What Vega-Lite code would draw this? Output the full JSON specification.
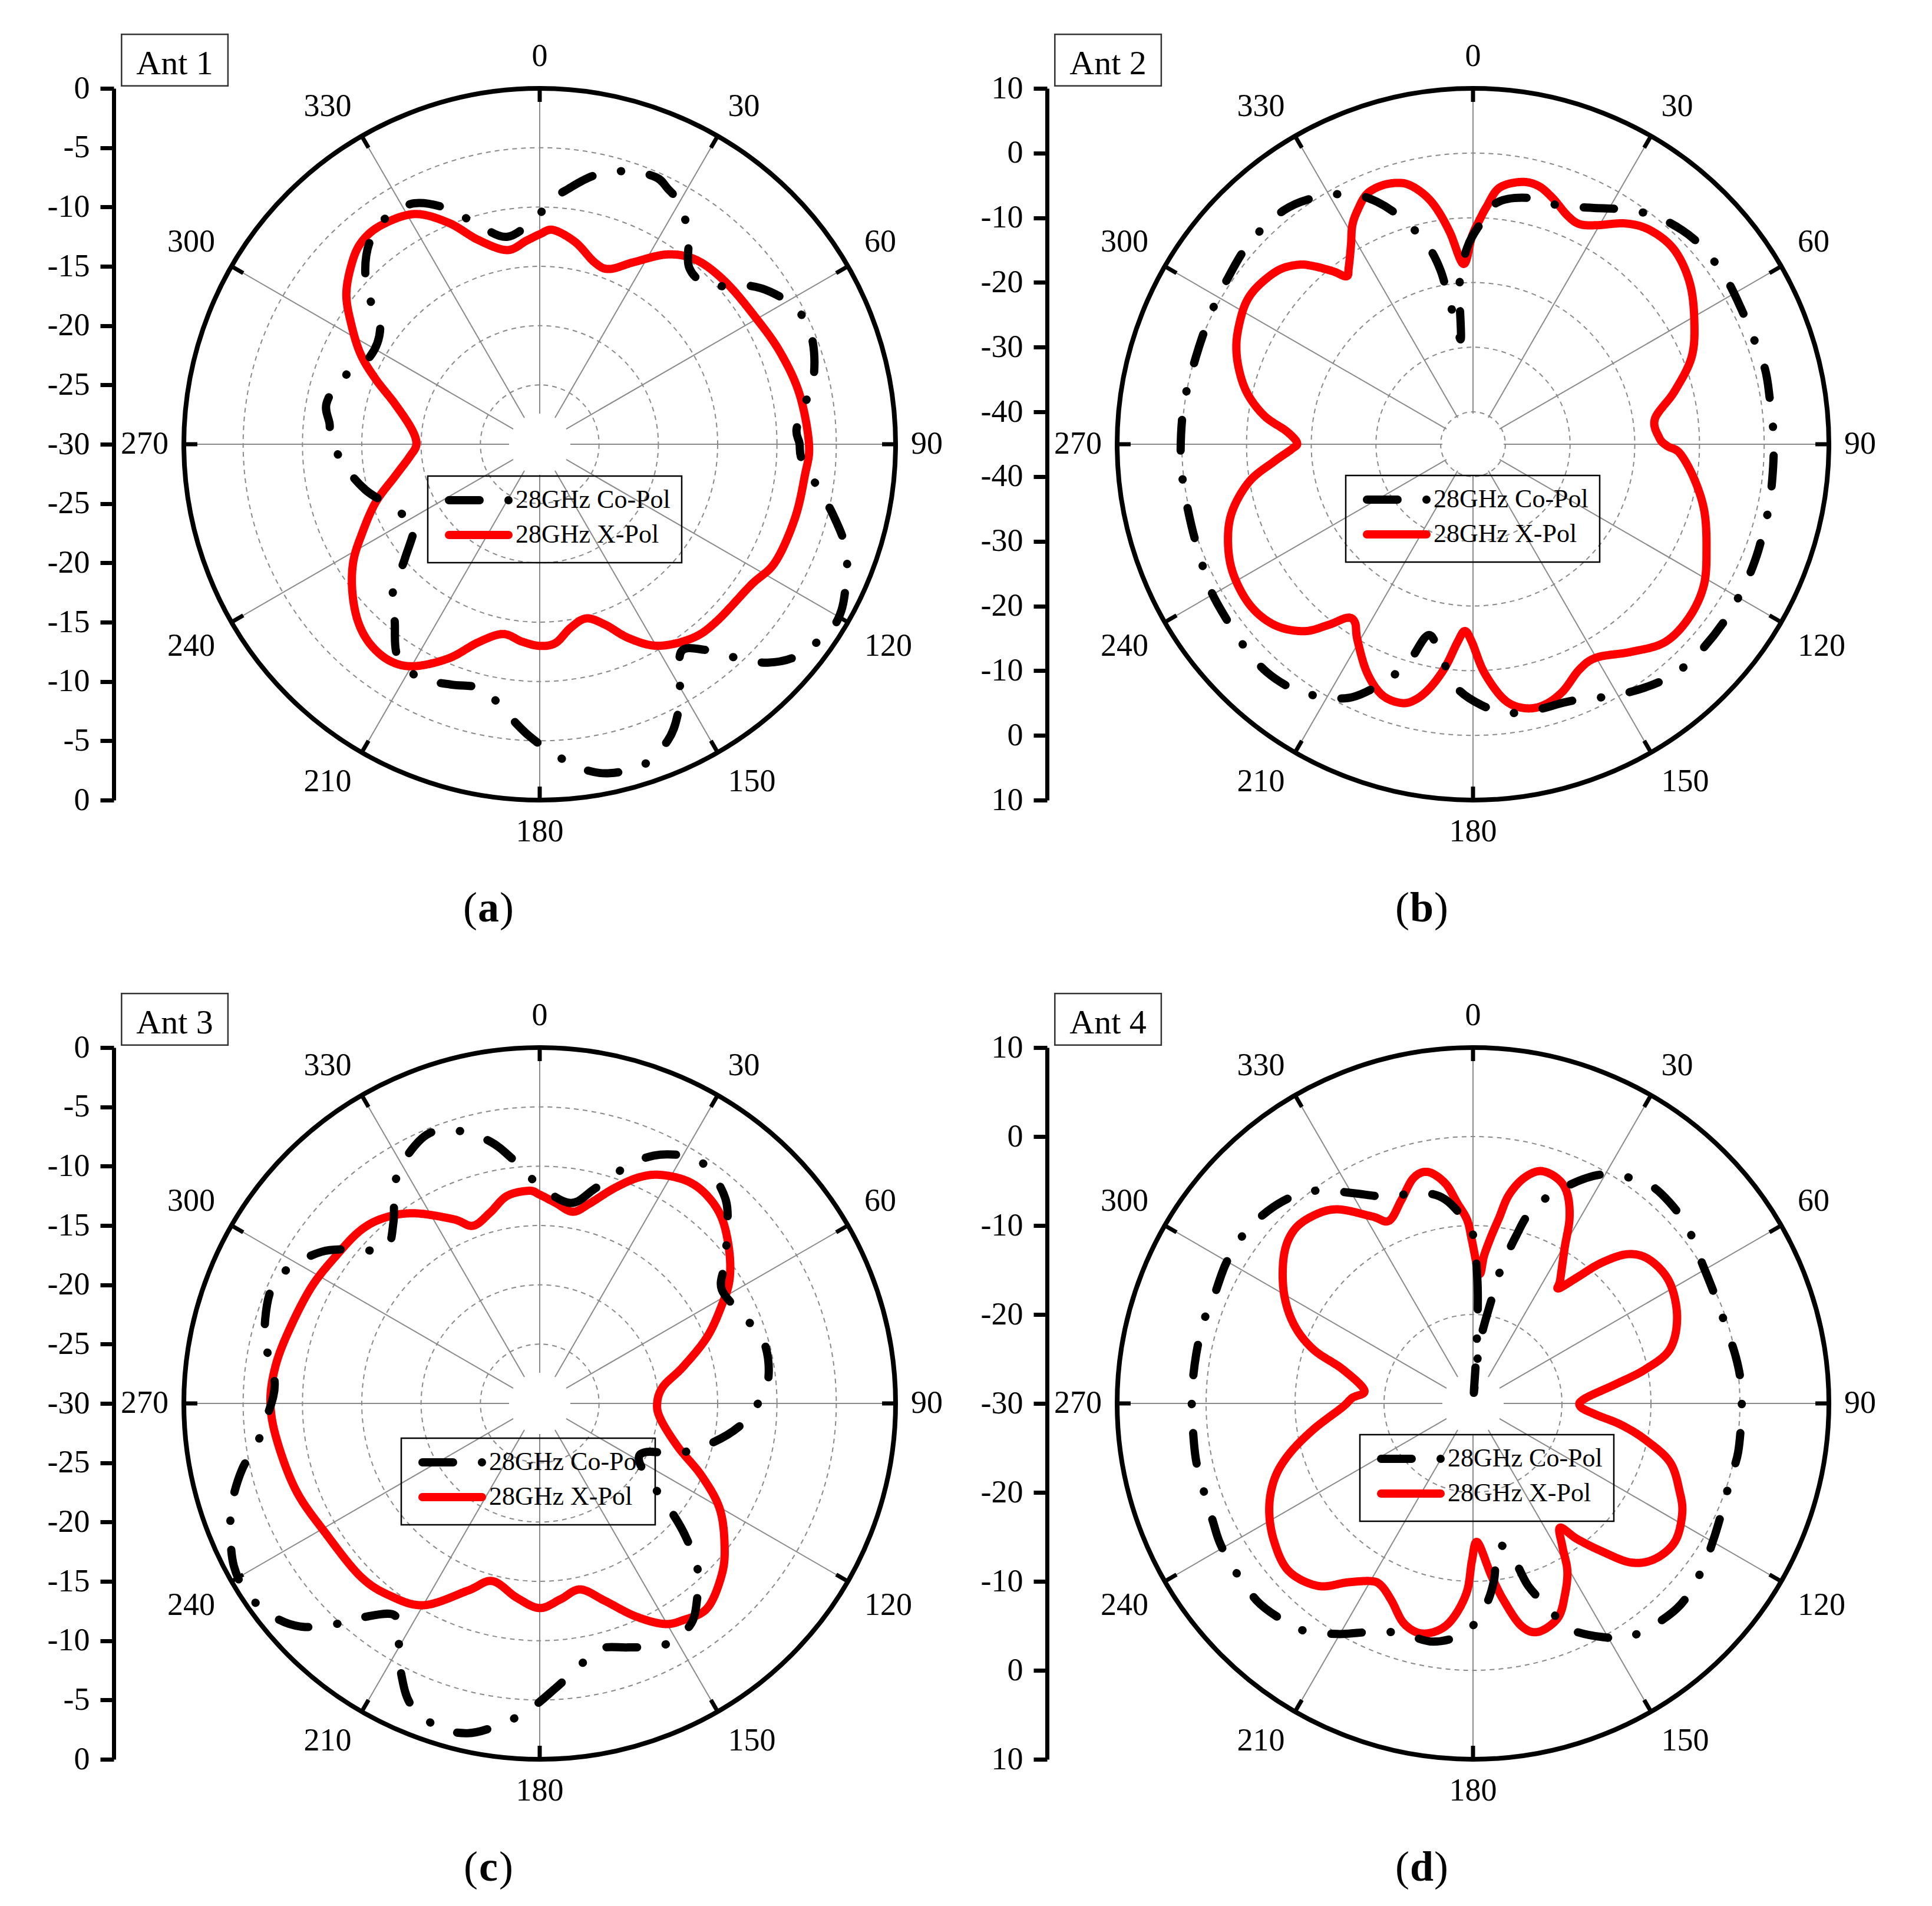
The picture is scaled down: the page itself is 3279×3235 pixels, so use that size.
{
  "$schema": "https://vega.github.io/schema/vega-lite/v6.json",
  "background": "white",
  "padding": {"left": 80, "top": 56, "right": 20, "bottom": 20},
  "config": {
    "view": {"stroke": null},
    "font": "Liberation Serif",
    "axisX": {"disable": true},
    "axisY": {"domainColor": "black", "domainWidth": 7, "tickColor": "black", "tickWidth": 7, "tickSize": 23, "labelFont": "Liberation Serif", "labelFontSize": 54, "labelColor": "black", "labelPadding": 18, "offset": 119, "grid": false, "labelOverlap": false, "labelFlush": false, "labelBound": false},
    "legend": {"symbolType": "M-3.367,0L3.367,0", "symbolSize": 900, "symbolStrokeWidth": 14, "labelFont": "Liberation Serif", "labelFontSize": 44, "labelColor": "black", "labelLimit": 800, "strokeColor": "black", "strokeWidth": 2.5, "padding": 19, "symbolOffset": 45.5, "rowPadding": 3, "labelOffset": 40.5},
    "text": {"font": "Liberation Serif", "fontSize": 54, "color": "black"}
  },
  "datasets": {
    "spokes": [{"a":0},{"a":30},{"a":60},{"a":90},{"a":120},{"a":150},{"a":180},{"a":210},{"a":240},{"a":270},{"a":300},{"a":330}],
    "rings": [
      {"p":"a","v":-25},{"p":"a","v":-20},{"p":"a","v":-15},{"p":"a","v":-10},{"p":"a","v":-5},
      {"p":"b","v":-40},{"p":"b","v":-30},{"p":"b","v":-20},{"p":"b","v":-10},{"p":"b","v":0},
      {"p":"c","v":-25},{"p":"c","v":-20},{"p":"c","v":-15},{"p":"c","v":-10},{"p":"c","v":-5},
      {"p":"d","v":-20},{"p":"d","v":-10},{"p":"d","v":0}
    ],
    "curves": [
      {"p":"a","s":"X","a":0,"v":-12.3},{"p":"a","s":"X","a":3.6,"v":-11.9},{"p":"a","s":"X","a":10,"v":-12.7},{"p":"a","s":"X","a":16.9,"v":-14.0},{"p":"a","s":"X","a":21.7,"v":-14.1},{"p":"a","s":"X","a":27.4,"v":-12.7},{"p":"a","s":"X","a":34,"v":-10.7},{"p":"a","s":"X","a":40.5,"v":-9.6},{"p":"a","s":"X","a":49,"v":-9.2},{"p":"a","s":"X","a":59.5,"v":-8.9},{"p":"a","s":"X","a":69,"v":-8.3},{"p":"a","s":"X","a":79,"v":-7.7},{"p":"a","s":"X","a":90,"v":-7.3},{"p":"a","s":"X","a":96.9,"v":-7.5},{"p":"a","s":"X","a":106.3,"v":-7.6},{"p":"a","s":"X","a":116.6,"v":-7.8},{"p":"a","s":"X","a":123.7,"v":-8.6},{"p":"a","s":"X","a":135,"v":-8.9},{"p":"a","s":"X","a":141.8,"v":-9.2},{"p":"a","s":"X","a":149.6,"v":-10.3},{"p":"a","s":"X","a":155.3,"v":-12.0},{"p":"a","s":"X","a":160,"v":-13.8},{"p":"a","s":"X","a":165,"v":-14.8},{"p":"a","s":"X","a":170.5,"v":-14.3},{"p":"a","s":"X","a":175.4,"v":-13.2},{"p":"a","s":"X","a":180,"v":-13.0},{"p":"a","s":"X","a":185.2,"v":-13.3},{"p":"a","s":"X","a":191,"v":-13.7},{"p":"a","s":"X","a":197.3,"v":-12.5},{"p":"a","s":"X","a":203,"v":-10.4},{"p":"a","s":"X","a":209.5,"v":-8.5},{"p":"a","s":"X","a":214.6,"v":-7.8},{"p":"a","s":"X","a":220.2,"v":-7.9},{"p":"a","s":"X","a":225.7,"v":-8.6},{"p":"a","s":"X","a":231.8,"v":-9.9},{"p":"a","s":"X","a":237.7,"v":-11.4},{"p":"a","s":"X","a":242.9,"v":-13.1},{"p":"a","s":"X","a":250.4,"v":-15.3},{"p":"a","s":"X","a":257.5,"v":-17.5},{"p":"a","s":"X","a":264.6,"v":-19.0},{"p":"a","s":"X","a":270,"v":-19.6},{"p":"a","s":"X","a":277,"v":-19.1},{"p":"a","s":"X","a":285.7,"v":-17.3},{"p":"a","s":"X","a":291.7,"v":-15.1},{"p":"a","s":"X","a":296.7,"v":-13.1},{"p":"a","s":"X","a":302.4,"v":-11.2},{"p":"a","s":"X","a":307.7,"v":-9.4},{"p":"a","s":"X","a":313.5,"v":-8.1},{"p":"a","s":"X","a":318.4,"v":-7.3},{"p":"a","s":"X","a":323.9,"v":-7.2},{"p":"a","s":"X","a":331.4,"v":-7.9},{"p":"a","s":"X","a":337.6,"v":-9.8},{"p":"a","s":"X","a":343.2,"v":-12.0},{"p":"a","s":"X","a":350.4,"v":-13.4},{"p":"a","s":"X","a":356.3,"v":-12.8},
      {"p":"a","s":"Co","a":2.6,"v":-9.4},{"p":"a","s":"Co","a":5.8,"v":-8.5},{"p":"a","s":"Co","a":11.4,"v":-6.9},{"p":"a","s":"Co","a":17.9,"v":-5.8},{"p":"a","s":"Co","a":23.5,"v":-5.45},{"p":"a","s":"Co","a":26.6,"v":-5.9},{"p":"a","s":"Co","a":29.9,"v":-6.5},{"p":"a","s":"Co","a":35.1,"v":-8.2},{"p":"a","s":"Co","a":40.3,"v":-10.5},{"p":"a","s":"Co","a":46.9,"v":-10.4},{"p":"a","s":"Co","a":52,"v":-8.2},{"p":"a","s":"Co","a":56.5,"v":-6.7},{"p":"a","s":"Co","a":62.4,"v":-5.5},{"p":"a","s":"Co","a":68.4,"v":-5.35},{"p":"a","s":"Co","a":75.4,"v":-6.1},{"p":"a","s":"Co","a":80.3,"v":-7.15},{"p":"a","s":"Co","a":86.5,"v":-8.3},{"p":"a","s":"Co","a":89.8,"v":-8.1},{"p":"a","s":"Co","a":93.4,"v":-7.85},{"p":"a","s":"Co","a":99.2,"v":-6.15},{"p":"a","s":"Co","a":103.7,"v":-4.5},{"p":"a","s":"Co","a":108.9,"v":-2.7},{"p":"a","s":"Co","a":114.2,"v":-1.7},{"p":"a","s":"Co","a":119,"v":-0.95},{"p":"a","s":"Co","a":122.9,"v":-0.96},{"p":"a","s":"Co","a":129.4,"v":-1.9},{"p":"a","s":"Co","a":133.8,"v":-3.4},{"p":"a","s":"Co","a":137.4,"v":-5.55},{"p":"a","s":"Co","a":141.3,"v":-7.8},{"p":"a","s":"Co","a":145.6,"v":-8.85},{"p":"a","s":"Co","a":149.3,"v":-6.8},{"p":"a","s":"Co","a":152.9,"v":-4.45},{"p":"a","s":"Co","a":156.6,"v":-2.8},{"p":"a","s":"Co","a":162,"v":-1.6},{"p":"a","s":"Co","a":168,"v":-1.65},{"p":"a","s":"Co","a":172.5,"v":-2.4},{"p":"a","s":"Co","a":177,"v":-3.75},{"p":"a","s":"Co","a":182.1,"v":-5.4},{"p":"a","s":"Co","a":186.9,"v":-7.1},{"p":"a","s":"Co","a":193.1,"v":-8.8},{"p":"a","s":"Co","a":200.3,"v":-8.4},{"p":"a","s":"Co","a":207.3,"v":-7.85},{"p":"a","s":"Co","a":213.9,"v":-8.5},{"p":"a","s":"Co","a":219.3,"v":-10.7},{"p":"a","s":"Co","a":224.3,"v":-12.2},{"p":"a","s":"Co","a":229.7,"v":-15.1},{"p":"a","s":"Co","a":236.9,"v":-17.4},{"p":"a","s":"Co","a":242,"v":-17.1},{"p":"a","s":"Co","a":247.6,"v":-16.4},{"p":"a","s":"Co","a":255.4,"v":-14.8},{"p":"a","s":"Co","a":264,"v":-13.4},{"p":"a","s":"Co","a":271.6,"v":-12.4},{"p":"a","s":"Co","a":275.6,"v":-12.2},{"p":"a","s":"Co","a":280.8,"v":-11.7},{"p":"a","s":"Co","a":288.2,"v":-12.4},{"p":"a","s":"Co","a":297.4,"v":-13.9},{"p":"a","s":"Co","a":306.4,"v":-13.3},{"p":"a","s":"Co","a":310.5,"v":-11.2},{"p":"a","s":"Co","a":315,"v":-9.2},{"p":"a","s":"Co","a":320.3,"v":-7.65},{"p":"a","s":"Co","a":326.2,"v":-6.9},{"p":"a","s":"Co","a":332.5,"v":-7.1},{"p":"a","s":"Co","a":338.4,"v":-8.6},{"p":"a","s":"Co","a":343.8,"v":-10.6},{"p":"a","s":"Co","a":351,"v":-12.3},{"p":"a","s":"Co","a":359,"v":-10.9},
      {"p":"b","s":"X","a":1.6,"v":-10.4},{"p":"b","s":"X","a":3.3,"v":-8.2},{"p":"b","s":"X","a":5.8,"v":-5.2},{"p":"b","s":"X","a":10.3,"v":-3.8},{"p":"b","s":"X","a":14.1,"v":-3.8},{"p":"b","s":"X","a":17.9,"v":-5.0},{"p":"b","s":"X","a":22.4,"v":-6.75},{"p":"b","s":"X","a":25.8,"v":-7.2},{"p":"b","s":"X","a":29.4,"v":-6.15},{"p":"b","s":"X","a":34.7,"v":-3.5},{"p":"b","s":"X","a":39.7,"v":-2.05},{"p":"b","s":"X","a":46,"v":-1.75},{"p":"b","s":"X","a":53.2,"v":-3.2},{"p":"b","s":"X","a":60.6,"v":-5.75},{"p":"b","s":"X","a":68.2,"v":-8.6},{"p":"b","s":"X","a":75.3,"v":-12.8},{"p":"b","s":"X","a":82,"v":-16.6},{"p":"b","s":"X","a":88,"v":-16.2},{"p":"b","s":"X","a":90.5,"v":-15.0},{"p":"b","s":"X","a":92.5,"v":-13.0},{"p":"b","s":"X","a":98.9,"v":-10.4},{"p":"b","s":"X","a":106.1,"v":-7.8},{"p":"b","s":"X","a":114,"v":-5.5},{"p":"b","s":"X","a":121.4,"v":-3.2},{"p":"b","s":"X","a":128.7,"v":-2.2},{"p":"b","s":"X","a":135.9,"v":-2.4},{"p":"b","s":"X","a":142.8,"v":-4.7},{"p":"b","s":"X","a":149.9,"v":-6.9},{"p":"b","s":"X","a":154.7,"v":-6.5},{"p":"b","s":"X","a":160.2,"v":-4.3},{"p":"b","s":"X","a":165,"v":-3.2},{"p":"b","s":"X","a":169.2,"v":-3.5},{"p":"b","s":"X","a":173.1,"v":-5.3},{"p":"b","s":"X","a":177.2,"v":-9.7},{"p":"b","s":"X","a":180.3,"v":-14.4},{"p":"b","s":"X","a":182.5,"v":-16.1},{"p":"b","s":"X","a":184.5,"v":-14.3},{"p":"b","s":"X","a":187.1,"v":-10.3},{"p":"b","s":"X","a":189.9,"v":-6.9},{"p":"b","s":"X","a":192.6,"v":-4.6},{"p":"b","s":"X","a":195.5,"v":-3.5},{"p":"b","s":"X","a":200,"v":-3.8},{"p":"b","s":"X","a":205,"v":-6.15},{"p":"b","s":"X","a":210.6,"v":-9.9},{"p":"b","s":"X","a":213.5,"v":-11.95},{"p":"b","s":"X","a":215.9,"v":-11.9},{"p":"b","s":"X","a":218.7,"v":-9.2},{"p":"b","s":"X","a":222.2,"v":-6.0},{"p":"b","s":"X","a":227.7,"v":-3.5},{"p":"b","s":"X","a":234.2,"v":-2.5},{"p":"b","s":"X","a":241.8,"v":-2.9},{"p":"b","s":"X","a":248.5,"v":-4.3},{"p":"b","s":"X","a":254.5,"v":-6.4},{"p":"b","s":"X","a":260.6,"v":-10.0},{"p":"b","s":"X","a":265.1,"v":-14.2},{"p":"b","s":"X","a":268.5,"v":-17.0},{"p":"b","s":"X","a":270.5,"v":-17.8},{"p":"b","s":"X","a":274,"v":-16.1},{"p":"b","s":"X","a":277.7,"v":-12.5},{"p":"b","s":"X","a":282.6,"v":-9.3},{"p":"b","s":"X","a":287.8,"v":-7.0},{"p":"b","s":"X","a":292.9,"v":-5.3},{"p":"b","s":"X","a":298.2,"v":-4.2},{"p":"b","s":"X","a":302.6,"v":-3.6},{"p":"b","s":"X","a":306.8,"v":-3.8},{"p":"b","s":"X","a":312,"v":-4.7},{"p":"b","s":"X","a":315.8,"v":-6.3},{"p":"b","s":"X","a":318.1,"v":-8.0},{"p":"b","s":"X","a":321,"v":-10.6},{"p":"b","s":"X","a":323,"v":-12.5},{"p":"b","s":"X","a":324.9,"v":-11.6},{"p":"b","s":"X","a":328.5,"v":-8.9},{"p":"b","s":"X","a":331.1,"v":-6.4},{"p":"b","s":"X","a":333.7,"v":-4.7},{"p":"b","s":"X","a":337,"v":-3.0},{"p":"b","s":"X","a":340.6,"v":-2.6},{"p":"b","s":"X","a":344.1,"v":-3.0},{"p":"b","s":"X","a":346.5,"v":-3.9},{"p":"b","s":"X","a":349.2,"v":-5.9},{"p":"b","s":"X","a":351.4,"v":-8.4},{"p":"b","s":"X","a":353.8,"v":-12.1},{"p":"b","s":"X","a":357,"v":-17.1},{"p":"b","s":"X","a":359.7,"v":-12.9},
      {"p":"b","s":"Co","a":1.7,"v":-11.1},{"p":"b","s":"Co","a":5.6,"v":-7.5},{"p":"b","s":"Co","a":12.4,"v":-6.0},{"p":"b","s":"Co","a":20,"v":-5.75},{"p":"b","s":"Co","a":26.7,"v":-4.1},{"p":"b","s":"Co","a":32.2,"v":-2.1},{"p":"b","s":"Co","a":38.1,"v":0.0},{"p":"b","s":"Co","a":44.3,"v":1.25},{"p":"b","s":"Co","a":49.8,"v":1.75},{"p":"b","s":"Co","a":56.8,"v":1.75},{"p":"b","s":"Co","a":62.9,"v":1.45},{"p":"b","s":"Co","a":69,"v":1.35},{"p":"b","s":"Co","a":75.6,"v":1.6},{"p":"b","s":"Co","a":81.3,"v":1.4},{"p":"b","s":"Co","a":87.5,"v":1.45},{"p":"b","s":"Co","a":93.3,"v":1.5},{"p":"b","s":"Co","a":100.4,"v":1.7},{"p":"b","s":"Co","a":105.2,"v":1.8},{"p":"b","s":"Co","a":111.4,"v":2.1},{"p":"b","s":"Co","a":117.5,"v":2.3},{"p":"b","s":"Co","a":125.4,"v":2.5},{"p":"b","s":"Co","a":133.9,"v":2.5},{"p":"b","s":"Co","a":140.8,"v":1.9},{"p":"b","s":"Co","a":149.4,"v":-0.1},{"p":"b","s":"Co","a":158.9,"v":-2.5},{"p":"b","s":"Co","a":166.3,"v":-2.8},{"p":"b","s":"Co","a":172.4,"v":-3.1},{"p":"b","s":"Co","a":178,"v":-4.6},{"p":"b","s":"Co","a":184,"v":-7.4},{"p":"b","s":"Co","a":188.8,"v":-12.1},{"p":"b","s":"Co","a":193.2,"v":-14.7},{"p":"b","s":"Co","a":196.5,"v":-9.9},{"p":"b","s":"Co","a":200.5,"v":-5.8},{"p":"b","s":"Co","a":205.5,"v":-1.7},{"p":"b","s":"Co","a":210.7,"v":0.4},{"p":"b","s":"Co","a":216.1,"v":1.9},{"p":"b","s":"Co","a":222.1,"v":2.5},{"p":"b","s":"Co","a":228.3,"v":2.2},{"p":"b","s":"Co","a":235,"v":1.7},{"p":"b","s":"Co","a":240.9,"v":1.4},{"p":"b","s":"Co","a":246.9,"v":0.7},{"p":"b","s":"Co","a":253.8,"v":0.3},{"p":"b","s":"Co","a":261.8,"v":0.2},{"p":"b","s":"Co","a":268.6,"v":0.2},{"p":"b","s":"Co","a":278,"v":0.1},{"p":"b","s":"Co","a":287.5,"v":-0.1},{"p":"b","s":"Co","a":296.3,"v":0.25},{"p":"b","s":"Co","a":303.2,"v":0.7},{"p":"b","s":"Co","a":312,"v":1.5},{"p":"b","s":"Co","a":321,"v":1.5},{"p":"b","s":"Co","a":328,"v":0.1},{"p":"b","s":"Co","a":334.2,"v":-2.1},{"p":"b","s":"Co","a":338.4,"v":-4.7},{"p":"b","s":"Co","a":342.4,"v":-8.3},{"p":"b","s":"Co","a":346.8,"v":-13.0},{"p":"b","s":"Co","a":349.4,"v":-17.6},{"p":"b","s":"Co","a":350.7,"v":-23.1},{"p":"b","s":"Co","a":352,"v":-25.5},{"p":"b","s":"Co","a":353.5,"v":-28.5},{"p":"b","s":"Co","a":355.3,"v":-19.9},{"p":"b","s":"Co","a":358.3,"v":-14.6},
      {"p":"c","s":"X","a":0,"v":-12.4},{"p":"c","s":"X","a":4.6,"v":-13.05},{"p":"c","s":"X","a":9.8,"v":-13.6},{"p":"c","s":"X","a":14.1,"v":-12.6},{"p":"c","s":"X","a":19.1,"v":-10.8},{"p":"c","s":"X","a":23.65,"v":-9.2},{"p":"c","s":"X","a":27.9,"v":-8.2},{"p":"c","s":"X","a":33.6,"v":-7.5},{"p":"c","s":"X","a":38.8,"v":-7.5},{"p":"c","s":"X","a":44.5,"v":-8.1},{"p":"c","s":"X","a":51,"v":-9.45},{"p":"c","s":"X","a":56.9,"v":-10.9},{"p":"c","s":"X","a":61.5,"v":-12.5},{"p":"c","s":"X","a":68.3,"v":-14.8},{"p":"c","s":"X","a":75.6,"v":-17.5},{"p":"c","s":"X","a":82.2,"v":-19.5},{"p":"c","s":"X","a":90,"v":-20.1},{"p":"c","s":"X","a":97.6,"v":-19.7},{"p":"c","s":"X","a":107.4,"v":-17.8},{"p":"c","s":"X","a":114.2,"v":-15.0},{"p":"c","s":"X","a":120.4,"v":-12.4},{"p":"c","s":"X","a":127.7,"v":-10.3},{"p":"c","s":"X","a":133.4,"v":-8.9},{"p":"c","s":"X","a":140.7,"v":-7.7},{"p":"c","s":"X","a":146.6,"v":-8.1},{"p":"c","s":"X","a":150.75,"v":-8.7},{"p":"c","s":"X","a":156,"v":-10.4},{"p":"c","s":"X","a":161.8,"v":-12.5},{"p":"c","s":"X","a":167.7,"v":-13.95},{"p":"c","s":"X","a":173.9,"v":-13.4},{"p":"c","s":"X","a":180,"v":-12.75},{"p":"c","s":"X","a":186.7,"v":-13.5},{"p":"c","s":"X","a":194.95,"v":-14.5},{"p":"c","s":"X","a":201,"v":-13.1},{"p":"c","s":"X","a":209.8,"v":-10.4},{"p":"c","s":"X","a":218,"v":-9.45},{"p":"c","s":"X","a":226.1,"v":-9.0},{"p":"c","s":"X","a":238.6,"v":-8.9},{"p":"c","s":"X","a":250.1,"v":-8.2},{"p":"c","s":"X","a":261.7,"v":-7.65},{"p":"c","s":"X","a":270,"v":-7.3},{"p":"c","s":"X","a":277.9,"v":-7.5},{"p":"c","s":"X","a":286.5,"v":-8.0},{"p":"c","s":"X","a":297,"v":-8.4},{"p":"c","s":"X","a":306,"v":-8.8},{"p":"c","s":"X","a":314,"v":-9.0},{"p":"c","s":"X","a":320.1,"v":-9.6},{"p":"c","s":"X","a":326.6,"v":-10.8},{"p":"c","s":"X","a":334.9,"v":-12.85},{"p":"c","s":"X","a":339.4,"v":-14.0},{"p":"c","s":"X","a":345.3,"v":-13.4},{"p":"c","s":"X","a":351,"v":-12.3},{"p":"c","s":"X","a":357.1,"v":-12.05},
      {"p":"c","s":"Co","a":0,"v":-11.65},{"p":"c","s":"Co","a":8.7,"v":-12.9},{"p":"c","s":"Co","a":14.4,"v":-11.3},{"p":"c","s":"Co","a":19.8,"v":-8.9},{"p":"c","s":"Co","a":24.7,"v":-7.0},{"p":"c","s":"Co","a":30.5,"v":-5.8},{"p":"c","s":"Co","a":35.3,"v":-5.6},{"p":"c","s":"Co","a":42.6,"v":-6.8},{"p":"c","s":"Co","a":48.9,"v":-9.1},{"p":"c","s":"Co","a":53.1,"v":-10.5},{"p":"c","s":"Co","a":58,"v":-11.9},{"p":"c","s":"Co","a":66.8,"v":-11.3},{"p":"c","s":"Co","a":74.6,"v":-10.4},{"p":"c","s":"Co","a":83.6,"v":-10.6},{"p":"c","s":"Co","a":90,"v":-11.6},{"p":"c","s":"Co","a":96.7,"v":-13.1},{"p":"c","s":"Co","a":103.5,"v":-15.3},{"p":"c","s":"Co","a":109.7,"v":-17.6},{"p":"c","s":"Co","a":114.4,"v":-20.1},{"p":"c","s":"Co","a":119.5,"v":-20.4},{"p":"c","s":"Co","a":124.8,"v":-18.8},{"p":"c","s":"Co","a":129.2,"v":-15.8},{"p":"c","s":"Co","a":132.3,"v":-13.4},{"p":"c","s":"Co","a":136.3,"v":-10.75},{"p":"c","s":"Co","a":141,"v":-8.9},{"p":"c","s":"Co","a":145.9,"v":-7.4},{"p":"c","s":"Co","a":152.9,"v":-7.1},{"p":"c","s":"Co","a":159.9,"v":-8.1},{"p":"c","s":"Co","a":166.2,"v":-8.7},{"p":"c","s":"Co","a":171.8,"v":-7.5},{"p":"c","s":"Co","a":177,"v":-5.9},{"p":"c","s":"Co","a":182.3,"v":-4.05},{"p":"c","s":"Co","a":187.5,"v":-2.6},{"p":"c","s":"Co","a":192.3,"v":-1.55},{"p":"c","s":"Co","a":197.3,"v":-1.4},{"p":"c","s":"Co","a":202.9,"v":-2.3},{"p":"c","s":"Co","a":206.8,"v":-4.2},{"p":"c","s":"Co","a":210.7,"v":-6.7},{"p":"c","s":"Co","a":214.4,"v":-8.35},{"p":"c","s":"Co","a":219.4,"v":-6.7},{"p":"c","s":"Co","a":222.7,"v":-4.7},{"p":"c","s":"Co","a":226.8,"v":-2.5},{"p":"c","s":"Co","a":231.3,"v":-1.25},{"p":"c","s":"Co","a":236.8,"v":-0.6},{"p":"c","s":"Co","a":242,"v":-0.8},{"p":"c","s":"Co","a":247.6,"v":-1.8},{"p":"c","s":"Co","a":252.3,"v":-2.8},{"p":"c","s":"Co","a":257.5,"v":-4.3},{"p":"c","s":"Co","a":261.8,"v":-5.9},{"p":"c","s":"Co","a":267.6,"v":-7.05},{"p":"c","s":"Co","a":274.2,"v":-7.6},{"p":"c","s":"Co","a":281.5,"v":-6.5},{"p":"c","s":"Co","a":287,"v":-5.8},{"p":"c","s":"Co","a":293.4,"v":-5.4},{"p":"c","s":"Co","a":298.5,"v":-6.0},{"p":"c","s":"Co","a":304.8,"v":-7.6},{"p":"c","s":"Co","a":309.6,"v":-9.6},{"p":"c","s":"Co","a":315,"v":-11.6},{"p":"c","s":"Co","a":321,"v":-10.4},{"p":"c","s":"Co","a":326.3,"v":-7.95},{"p":"c","s":"Co","a":331,"v":-6.5},{"p":"c","s":"Co","a":337.7,"v":-5.4},{"p":"c","s":"Co","a":343.8,"v":-6.1},{"p":"c","s":"Co","a":349.2,"v":-7.5},{"p":"c","s":"Co","a":353.5,"v":-9.2},
      {"p":"d","s":"X","a":2.8,"v":-15.4},{"p":"d","s":"X","a":4.3,"v":-13.3},{"p":"d","s":"X","a":6.3,"v":-11.0},{"p":"d","s":"X","a":8,"v":-8.95},{"p":"d","s":"X","a":9.7,"v":-6.3},{"p":"d","s":"X","a":12.6,"v":-4.1},{"p":"d","s":"X","a":16.2,"v":-2.8},{"p":"d","s":"X","a":20.6,"v":-3.0},{"p":"d","s":"X","a":24.1,"v":-4.1},{"p":"d","s":"X","a":27.5,"v":-6.5},{"p":"d","s":"X","a":30.5,"v":-9.7},{"p":"d","s":"X","a":35.2,"v":-13.0},{"p":"d","s":"X","a":36.6,"v":-13.9},{"p":"d","s":"X","a":39.6,"v":-11.6},{"p":"d","s":"X","a":42.4,"v":-8.6},{"p":"d","s":"X","a":46.1,"v":-5.8},{"p":"d","s":"X","a":51,"v":-4.4},{"p":"d","s":"X","a":58.4,"v":-4.05},{"p":"d","s":"X","a":67.1,"v":-5.1},{"p":"d","s":"X","a":74.6,"v":-7.05},{"p":"d","s":"X","a":78.8,"v":-10.25},{"p":"d","s":"X","a":82.3,"v":-13.8},{"p":"d","s":"X","a":87.7,"v":-17.5},{"p":"d","s":"X","a":91.8,"v":-17.9},{"p":"d","s":"X","a":95.3,"v":-16.05},{"p":"d","s":"X","a":98.2,"v":-13.2},{"p":"d","s":"X","a":101.9,"v":-10.2},{"p":"d","s":"X","a":106.6,"v":-6.9},{"p":"d","s":"X","a":113.1,"v":-4.75},{"p":"d","s":"X","a":117.9,"v":-3.4},{"p":"d","s":"X","a":124.4,"v":-2.5},{"p":"d","s":"X","a":130.5,"v":-3.1},{"p":"d","s":"X","a":135.2,"v":-4.8},{"p":"d","s":"X","a":139,"v":-8.0},{"p":"d","s":"X","a":142.5,"v":-10.8},{"p":"d","s":"X","a":145,"v":-12.95},{"p":"d","s":"X","a":148,"v":-11.05},{"p":"d","s":"X","a":150.6,"v":-8.4},{"p":"d","s":"X","a":154.5,"v":-6.05},{"p":"d","s":"X","a":158.5,"v":-4.05},{"p":"d","s":"X","a":164.1,"v":-3.3},{"p":"d","s":"X","a":167.8,"v":-4.45},{"p":"d","s":"X","a":171.1,"v":-7.55},{"p":"d","s":"X","a":173.9,"v":-10.5},{"p":"d","s":"X","a":178.2,"v":-14.4},{"p":"d","s":"X","a":180.4,"v":-12.3},{"p":"d","s":"X","a":181.8,"v":-8.9},{"p":"d","s":"X","a":184.9,"v":-6.05},{"p":"d","s":"X","a":188.2,"v":-4.35},{"p":"d","s":"X","a":192.8,"v":-3.5},{"p":"d","s":"X","a":197.5,"v":-4.1},{"p":"d","s":"X","a":202.4,"v":-6.0},{"p":"d","s":"X","a":206.6,"v":-7.05},{"p":"d","s":"X","a":209.7,"v":-7.0},{"p":"d","s":"X","a":215,"v":-5.45},{"p":"d","s":"X","a":220.3,"v":-3.1},{"p":"d","s":"X","a":227.7,"v":-2.0},{"p":"d","s":"X","a":235.3,"v":-2.8},{"p":"d","s":"X","a":242.6,"v":-4.2},{"p":"d","s":"X","a":249.1,"v":-6.1},{"p":"d","s":"X","a":254.5,"v":-8.5},{"p":"d","s":"X","a":260.7,"v":-11.8},{"p":"d","s":"X","a":268.3,"v":-15.3},{"p":"d","s":"X","a":272.6,"v":-16.4},{"p":"d","s":"X","a":276.9,"v":-17.7},{"p":"d","s":"X","a":284.7,"v":-14.85},{"p":"d","s":"X","a":288.7,"v":-11.05},{"p":"d","s":"X","a":293.8,"v":-8.0},{"p":"d","s":"X","a":300.4,"v":-5.35},{"p":"d","s":"X","a":308.1,"v":-3.0},{"p":"d","s":"X","a":314,"v":-2.0},{"p":"d","s":"X","a":319.65,"v":-2.3},{"p":"d","s":"X","a":325.1,"v":-3.4},{"p":"d","s":"X","a":331.6,"v":-6.1},{"p":"d","s":"X","a":335.3,"v":-7.4},{"p":"d","s":"X","a":340.5,"v":-5.8},{"p":"d","s":"X","a":345.2,"v":-3.8},{"p":"d","s":"X","a":349,"v":-3.5},{"p":"d","s":"X","a":352.8,"v":-5.05},{"p":"d","s":"X","a":355.5,"v":-7.4},{"p":"d","s":"X","a":358.2,"v":-9.4},{"p":"d","s":"X","a":359.6,"v":-11.65},
      {"p":"d","s":"Co","a":0.2,"v":-11.4},{"p":"d","s":"Co","a":2,"v":-16},{"p":"d","s":"Co","a":3,"v":-20},{"p":"d","s":"Co","a":3.8,"v":-25},{"p":"d","s":"Co","a":4.5,"v":-28.8},{"p":"d","s":"Co","a":5.5,"v":-25.9},{"p":"d","s":"Co","a":6.5,"v":-23.1},{"p":"d","s":"Co","a":8.1,"v":-21.05},{"p":"d","s":"Co","a":10.4,"v":-17.6},{"p":"d","s":"Co","a":11.8,"v":-14.4},{"p":"d","s":"Co","a":14.4,"v":-10.6},{"p":"d","s":"Co","a":16.7,"v":-7.5},{"p":"d","s":"Co","a":21.7,"v":-4.3},{"p":"d","s":"Co","a":29.3,"v":-0.5},{"p":"d","s":"Co","a":38,"v":1.45},{"p":"d","s":"Co","a":44.5,"v":1.6},{"p":"d","s":"Co","a":51.3,"v":1.1},{"p":"d","s":"Co","a":58.4,"v":0.2},{"p":"d","s":"Co","a":65.2,"v":-0.2},{"p":"d","s":"Co","a":72.1,"v":-0.3},{"p":"d","s":"Co","a":80,"v":0.0},{"p":"d","s":"Co","a":85.9,"v":0.2},{"p":"d","s":"Co","a":92.2,"v":0.2},{"p":"d","s":"Co","a":100.4,"v":0.3},{"p":"d","s":"Co","a":106.4,"v":0.15},{"p":"d","s":"Co","a":113.5,"v":0.5},{"p":"d","s":"Co","a":119.9,"v":1.1},{"p":"d","s":"Co","a":126.3,"v":1.85},{"p":"d","s":"Co","a":135.1,"v":2.5},{"p":"d","s":"Co","a":145.4,"v":1.7},{"p":"d","s":"Co","a":151.2,"v":-0.05},{"p":"d","s":"Co","a":157.2,"v":-2.6},{"p":"d","s":"Co","a":159.5,"v":-5.3},{"p":"d","s":"Co","a":163.2,"v":-8.6},{"p":"d","s":"Co","a":165.8,"v":-12.6},{"p":"d","s":"Co","a":170.4,"v":-13.6},{"p":"d","s":"Co","a":173.3,"v":-9.9},{"p":"d","s":"Co","a":176.9,"v":-6.9},{"p":"d","s":"Co","a":182,"v":-4.2},{"p":"d","s":"Co","a":189.5,"v":-2.85},{"p":"d","s":"Co","a":197.4,"v":-2.95},{"p":"d","s":"Co","a":203.9,"v":-1.9},{"p":"d","s":"Co","a":210.4,"v":0.05},{"p":"d","s":"Co","a":216.7,"v":1.85},{"p":"d","s":"Co","a":222.1,"v":2.5},{"p":"d","s":"Co","a":227.6,"v":2.9},{"p":"d","s":"Co","a":234.85,"v":2.7},{"p":"d","s":"Co","a":240.9,"v":2.5},{"p":"d","s":"Co","a":245.6,"v":2.1},{"p":"d","s":"Co","a":253.9,"v":1.8},{"p":"d","s":"Co","a":259.6,"v":1.75},{"p":"d","s":"Co","a":268.2,"v":1.6},{"p":"d","s":"Co","a":273.4,"v":1.6},{"p":"d","s":"Co","a":280,"v":1.6},{"p":"d","s":"Co","a":286.8,"v":1.65},{"p":"d","s":"Co","a":292.2,"v":1.5},{"p":"d","s":"Co","a":299.2,"v":1.9},{"p":"d","s":"Co","a":305.2,"v":2.05},{"p":"d","s":"Co","a":311.7,"v":1.75},{"p":"d","s":"Co","a":318.1,"v":1.0},{"p":"d","s":"Co","a":324,"v":-0.4},{"p":"d","s":"Co","a":330.2,"v":-2.75},{"p":"d","s":"Co","a":337.3,"v":-4.8},{"p":"d","s":"Co","a":346,"v":-5.6},{"p":"d","s":"Co","a":352.2,"v":-6.85},{"p":"d","s":"Co","a":358.1,"v":-9.7}
    ]
  },
  "columns": 2,
  "spacing": {"row": 420, "column": 376},
  "bounds": "flush",
  "resolve": {"scale": {"color": "independent", "strokeDash": "independent"}},
  "concat": [
    {
      "width": 1208, "height": 1208,
      "layer": [
        {"data": {"name": "rings"}, "transform": [{"filter": "datum.p == 'a'"}, {"calculate": "(datum.v + 30) / 30", "as": "r"}],
         "mark": {"type": "point", "shape": "circle", "filled": false, "opacity": 1, "stroke": "#8a8a8a", "strokeWidth": 2, "strokeDash": [8, 7]},
         "encoding": {"x": {"datum": 0, "type": "quantitative", "scale": {"domain": [-1, 1]}}, "y": {"datum": 0, "type": "quantitative", "scale": {"domain": [-1, 1]}, "title": null},
           "size": {"field": "r", "type": "quantitative", "scale": {"type": "pow", "exponent": 2, "domain": [0, 1], "range": [0, 1459264]}, "legend": null}}},
        {"data": {"name": "spokes"}, "transform": [{"calculate": "datum.a * PI / 180", "as": "t"}, {"calculate": "0.086 * sin(datum.t)", "as": "x"}, {"calculate": "0.086 * cos(datum.t)", "as": "y"}, {"calculate": "sin(datum.t)", "as": "x2"}, {"calculate": "cos(datum.t)", "as": "y2"}],
         "mark": {"type": "rule", "stroke": "#8a8a8a", "strokeWidth": 2},
         "encoding": {"x": {"field": "x", "type": "quantitative", "scale": {"domain": [-1, 1]}}, "y": {"field": "y", "type": "quantitative", "scale": {"domain": [-1, 1]}, "title": null}, "x2": {"field": "x2"}, "y2": {"field": "y2"}}},
        {"data": {"name": "spokes"}, "transform": [{"calculate": "datum.a * PI / 180", "as": "t"}, {"calculate": "0.962 * sin(datum.t)", "as": "x"}, {"calculate": "0.962 * cos(datum.t)", "as": "y"}, {"calculate": "sin(datum.t)", "as": "x2"}, {"calculate": "cos(datum.t)", "as": "y2"}],
         "mark": {"type": "rule", "stroke": "black", "strokeWidth": 7},
         "encoding": {"x": {"field": "x", "type": "quantitative", "scale": {"domain": [-1, 1]}}, "y": {"field": "y", "type": "quantitative", "scale": {"domain": [-1, 1]}, "title": null}, "x2": {"field": "x2"}, "y2": {"field": "y2"}}},
        {"data": {"values": [{}]},
         "mark": {"type": "point", "shape": "circle", "filled": false, "opacity": 1, "stroke": "black", "strokeWidth": 8, "size": 1459264},
         "encoding": {"x": {"datum": 0, "type": "quantitative", "scale": {"domain": [-1, 1]}}, "y": {"datum": 0, "type": "quantitative", "scale": {"domain": [-1, 1]}, "title": null}}},
        {"data": {"name": "spokes"}, "transform": [{"calculate": "datum.a * PI / 180", "as": "t"}, {"calculate": "length(toString(datum.a))", "as": "n"}, {"calculate": "((639 - 9 * pow(abs(sin(datum.t)), 8)) * sin(datum.t) + (abs(sin(datum.t)) > 0.01 ? (sin(datum.t) > 0 ? 1 : -1) : 0) * 13.5 * datum.n) / 604", "as": "x"}, {"calculate": "(639 * cos(datum.t) + (abs(cos(datum.t)) > 0.01 ? (cos(datum.t) > 0 ? 1 : -1) : 0) * (19 + 8 * pow(abs(sin(datum.t)), 4))) / 604", "as": "y"}],
         "mark": {"type": "text", "fontSize": 54},
         "encoding": {"x": {"field": "x", "type": "quantitative", "scale": {"domain": [-1, 1]}}, "y": {"field": "y", "type": "quantitative", "scale": {"domain": [-1, 1]}, "title": null}, "text": {"field": "a", "type": "nominal"}}},
        {"data": {"name": "curves"}, "transform": [{"filter": "datum.p == 'a'"}, {"calculate": "(datum.v + 30) / 30", "as": "r"}, {"calculate": "datum.r * sin(datum.a * PI / 180)", "as": "x"}, {"calculate": "datum.r * cos(datum.a * PI / 180)", "as": "y"}],
         "mark": {"type": "line", "interpolate": "cardinal-closed", "strokeWidth": 14, "strokeCap": "round", "strokeJoin": "round"},
         "encoding": {
           "x": {"field": "x", "type": "quantitative", "scale": {"domain": [-1, 1]}},
           "y": {"field": "y", "type": "quantitative", "scale": {"domain": [-1, 1]}, "title": null, "axis": {"values": [1, 0.83333, 0.66667, 0.5, 0.33333, 0.16667, 0, -0.16667, -0.33333, -0.5, -0.66667, -0.83333, -1], "labelExpr": "'' + round(30 * abs(datum.value) - 30)"}},
           "order": {"field": "a", "type": "quantitative"},
           "color": {"field": "s", "type": "nominal", "scale": {"domain": ["Co", "X"], "range": ["black", "#ff0000"]}, "legend": {"title": null, "orient": "none", "legendX": 414, "legendY": 658, "labelExpr": "'28GHz ' + datum.label + '-Pol\u00a0\u00a0'", "encode": {"symbols": {"update": {"strokeCap": {"value": "round"}}}}}},
           "strokeDash": {"field": "s", "type": "nominal", "scale": {"domain": ["Co", "X"], "range": [[52, 49, 0.5, 49], [1, 0]]}, "legend": {"title": null, "orient": "none", "legendX": 414, "legendY": 658, "labelExpr": "'28GHz ' + datum.label + '-Pol\u00a0\u00a0'"}}
         }},
        {"data": {"values": [{}]}, "mark": {"type": "rect", "fill": "white", "stroke": "#333333", "strokeWidth": 2.5},
         "encoding": {"x": {"datum": -1.175, "type": "quantitative", "scale": {"domain": [-1, 1]}}, "x2": {"datum": -0.876}, "y": {"datum": 1.152, "type": "quantitative", "scale": {"domain": [-1, 1]}, "title": null}, "y2": {"datum": 1.007}}},
        {"data": {"values": [{}]}, "mark": {"type": "text", "text": "Ant 1", "fontSize": 58},
         "encoding": {"x": {"datum": -1.0255, "type": "quantitative", "scale": {"domain": [-1, 1]}}, "y": {"datum": 1.068, "type": "quantitative", "scale": {"domain": [-1, 1]}, "title": null}}},
        {"data": {"values": [{}]}, "mark": {"type": "text", "text": "(", "fontSize": 72, "dx": -31},
         "encoding": {"x": {"datum": -0.144, "type": "quantitative", "scale": {"domain": [-1, 1]}}, "y": {"datum": -1.305, "type": "quantitative", "scale": {"domain": [-1, 1]}, "title": null}}},
        {"data": {"values": [{}]}, "mark": {"type": "text", "text": "a", "fontSize": 72, "fontWeight": "bold"},
         "encoding": {"x": {"datum": -0.144, "type": "quantitative", "scale": {"domain": [-1, 1]}}, "y": {"datum": -1.305, "type": "quantitative", "scale": {"domain": [-1, 1]}, "title": null}}},
        {"data": {"values": [{}]}, "mark": {"type": "text", "text": ")", "fontSize": 72, "dx": 31},
         "encoding": {"x": {"datum": -0.144, "type": "quantitative", "scale": {"domain": [-1, 1]}}, "y": {"datum": -1.305, "type": "quantitative", "scale": {"domain": [-1, 1]}, "title": null}}}
      ]
    },
    {
      "width": 1208, "height": 1208,
      "layer": [
        {"data": {"name": "rings"}, "transform": [{"filter": "datum.p == 'b'"}, {"calculate": "(datum.v + 45) / 55", "as": "r"}],
         "mark": {"type": "point", "shape": "circle", "filled": false, "opacity": 1, "stroke": "#8a8a8a", "strokeWidth": 2, "strokeDash": [8, 7]},
         "encoding": {"x": {"datum": 0, "type": "quantitative", "scale": {"domain": [-1, 1]}}, "y": {"datum": 0, "type": "quantitative", "scale": {"domain": [-1, 1]}, "title": null},
           "size": {"field": "r", "type": "quantitative", "scale": {"type": "pow", "exponent": 2, "domain": [0, 1], "range": [0, 1459264]}, "legend": null}}},
        {"data": {"name": "spokes"}, "transform": [{"calculate": "datum.a * PI / 180", "as": "t"}, {"calculate": "0.086 * sin(datum.t)", "as": "x"}, {"calculate": "0.086 * cos(datum.t)", "as": "y"}, {"calculate": "sin(datum.t)", "as": "x2"}, {"calculate": "cos(datum.t)", "as": "y2"}],
         "mark": {"type": "rule", "stroke": "#8a8a8a", "strokeWidth": 2},
         "encoding": {"x": {"field": "x", "type": "quantitative", "scale": {"domain": [-1, 1]}}, "y": {"field": "y", "type": "quantitative", "scale": {"domain": [-1, 1]}, "title": null}, "x2": {"field": "x2"}, "y2": {"field": "y2"}}},
        {"data": {"name": "spokes"}, "transform": [{"calculate": "datum.a * PI / 180", "as": "t"}, {"calculate": "0.962 * sin(datum.t)", "as": "x"}, {"calculate": "0.962 * cos(datum.t)", "as": "y"}, {"calculate": "sin(datum.t)", "as": "x2"}, {"calculate": "cos(datum.t)", "as": "y2"}],
         "mark": {"type": "rule", "stroke": "black", "strokeWidth": 7},
         "encoding": {"x": {"field": "x", "type": "quantitative", "scale": {"domain": [-1, 1]}}, "y": {"field": "y", "type": "quantitative", "scale": {"domain": [-1, 1]}, "title": null}, "x2": {"field": "x2"}, "y2": {"field": "y2"}}},
        {"data": {"values": [{}]},
         "mark": {"type": "point", "shape": "circle", "filled": false, "opacity": 1, "stroke": "black", "strokeWidth": 8, "size": 1459264},
         "encoding": {"x": {"datum": 0, "type": "quantitative", "scale": {"domain": [-1, 1]}}, "y": {"datum": 0, "type": "quantitative", "scale": {"domain": [-1, 1]}, "title": null}}},
        {"data": {"name": "spokes"}, "transform": [{"calculate": "datum.a * PI / 180", "as": "t"}, {"calculate": "length(toString(datum.a))", "as": "n"}, {"calculate": "((639 - 9 * pow(abs(sin(datum.t)), 8)) * sin(datum.t) + (abs(sin(datum.t)) > 0.01 ? (sin(datum.t) > 0 ? 1 : -1) : 0) * 13.5 * datum.n) / 604", "as": "x"}, {"calculate": "(639 * cos(datum.t) + (abs(cos(datum.t)) > 0.01 ? (cos(datum.t) > 0 ? 1 : -1) : 0) * (19 + 8 * pow(abs(sin(datum.t)), 4))) / 604", "as": "y"}],
         "mark": {"type": "text", "fontSize": 54},
         "encoding": {"x": {"field": "x", "type": "quantitative", "scale": {"domain": [-1, 1]}}, "y": {"field": "y", "type": "quantitative", "scale": {"domain": [-1, 1]}, "title": null}, "text": {"field": "a", "type": "nominal"}}},
        {"data": {"name": "curves"}, "transform": [{"filter": "datum.p == 'b'"}, {"calculate": "(datum.v + 45) / 55", "as": "r"}, {"calculate": "datum.r * sin(datum.a * PI / 180)", "as": "x"}, {"calculate": "datum.r * cos(datum.a * PI / 180)", "as": "y"}],
         "mark": {"type": "line", "interpolate": "cardinal-closed", "strokeWidth": 14, "strokeCap": "round", "strokeJoin": "round"},
         "encoding": {
           "x": {"field": "x", "type": "quantitative", "scale": {"domain": [-1, 1]}},
           "y": {"field": "y", "type": "quantitative", "scale": {"domain": [-1, 1]}, "title": null, "axis": {"values": [1, 0.81818, 0.63636, 0.45455, 0.27273, 0.09091, -0.09091, -0.27273, -0.45455, -0.63636, -0.81818, -1], "labelExpr": "'' + round(55 * abs(datum.value) - 45)"}},
           "order": {"field": "a", "type": "quantitative"},
           "color": {"field": "s", "type": "nominal", "scale": {"domain": ["Co", "X"], "range": ["black", "#ff0000"]}, "legend": {"title": null, "orient": "none", "legendX": 388, "legendY": 657, "labelExpr": "'28GHz ' + datum.label + '-Pol\u00a0\u00a0'", "encode": {"symbols": {"update": {"strokeCap": {"value": "round"}}}}}},
           "strokeDash": {"field": "s", "type": "nominal", "scale": {"domain": ["Co", "X"], "range": [[52, 49, 0.5, 49], [1, 0]]}, "legend": {"title": null, "orient": "none", "legendX": 388, "legendY": 657, "labelExpr": "'28GHz ' + datum.label + '-Pol\u00a0\u00a0'"}}
         }},
        {"data": {"values": [{}]}, "mark": {"type": "rect", "fill": "white", "stroke": "#333333", "strokeWidth": 2.5},
         "encoding": {"x": {"datum": -1.175, "type": "quantitative", "scale": {"domain": [-1, 1]}}, "x2": {"datum": -0.876}, "y": {"datum": 1.152, "type": "quantitative", "scale": {"domain": [-1, 1]}, "title": null}, "y2": {"datum": 1.007}}},
        {"data": {"values": [{}]}, "mark": {"type": "text", "text": "Ant 2", "fontSize": 58},
         "encoding": {"x": {"datum": -1.0255, "type": "quantitative", "scale": {"domain": [-1, 1]}}, "y": {"datum": 1.068, "type": "quantitative", "scale": {"domain": [-1, 1]}, "title": null}}},
        {"data": {"values": [{}]}, "mark": {"type": "text", "text": "(", "fontSize": 72, "dx": -33},
         "encoding": {"x": {"datum": -0.144, "type": "quantitative", "scale": {"domain": [-1, 1]}}, "y": {"datum": -1.305, "type": "quantitative", "scale": {"domain": [-1, 1]}, "title": null}}},
        {"data": {"values": [{}]}, "mark": {"type": "text", "text": "b", "fontSize": 72, "fontWeight": "bold"},
         "encoding": {"x": {"datum": -0.144, "type": "quantitative", "scale": {"domain": [-1, 1]}}, "y": {"datum": -1.305, "type": "quantitative", "scale": {"domain": [-1, 1]}, "title": null}}},
        {"data": {"values": [{}]}, "mark": {"type": "text", "text": ")", "fontSize": 72, "dx": 33},
         "encoding": {"x": {"datum": -0.144, "type": "quantitative", "scale": {"domain": [-1, 1]}}, "y": {"datum": -1.305, "type": "quantitative", "scale": {"domain": [-1, 1]}, "title": null}}}
      ]
    },
    {
      "width": 1208, "height": 1208,
      "layer": [
        {"data": {"name": "rings"}, "transform": [{"filter": "datum.p == 'c'"}, {"calculate": "(datum.v + 30) / 30", "as": "r"}],
         "mark": {"type": "point", "shape": "circle", "filled": false, "opacity": 1, "stroke": "#8a8a8a", "strokeWidth": 2, "strokeDash": [8, 7]},
         "encoding": {"x": {"datum": 0, "type": "quantitative", "scale": {"domain": [-1, 1]}}, "y": {"datum": 0, "type": "quantitative", "scale": {"domain": [-1, 1]}, "title": null},
           "size": {"field": "r", "type": "quantitative", "scale": {"type": "pow", "exponent": 2, "domain": [0, 1], "range": [0, 1459264]}, "legend": null}}},
        {"data": {"name": "spokes"}, "transform": [{"calculate": "datum.a * PI / 180", "as": "t"}, {"calculate": "0.086 * sin(datum.t)", "as": "x"}, {"calculate": "0.086 * cos(datum.t)", "as": "y"}, {"calculate": "sin(datum.t)", "as": "x2"}, {"calculate": "cos(datum.t)", "as": "y2"}],
         "mark": {"type": "rule", "stroke": "#8a8a8a", "strokeWidth": 2},
         "encoding": {"x": {"field": "x", "type": "quantitative", "scale": {"domain": [-1, 1]}}, "y": {"field": "y", "type": "quantitative", "scale": {"domain": [-1, 1]}, "title": null}, "x2": {"field": "x2"}, "y2": {"field": "y2"}}},
        {"data": {"name": "spokes"}, "transform": [{"calculate": "datum.a * PI / 180", "as": "t"}, {"calculate": "0.962 * sin(datum.t)", "as": "x"}, {"calculate": "0.962 * cos(datum.t)", "as": "y"}, {"calculate": "sin(datum.t)", "as": "x2"}, {"calculate": "cos(datum.t)", "as": "y2"}],
         "mark": {"type": "rule", "stroke": "black", "strokeWidth": 7},
         "encoding": {"x": {"field": "x", "type": "quantitative", "scale": {"domain": [-1, 1]}}, "y": {"field": "y", "type": "quantitative", "scale": {"domain": [-1, 1]}, "title": null}, "x2": {"field": "x2"}, "y2": {"field": "y2"}}},
        {"data": {"values": [{}]},
         "mark": {"type": "point", "shape": "circle", "filled": false, "opacity": 1, "stroke": "black", "strokeWidth": 8, "size": 1459264},
         "encoding": {"x": {"datum": 0, "type": "quantitative", "scale": {"domain": [-1, 1]}}, "y": {"datum": 0, "type": "quantitative", "scale": {"domain": [-1, 1]}, "title": null}}},
        {"data": {"name": "spokes"}, "transform": [{"calculate": "datum.a * PI / 180", "as": "t"}, {"calculate": "length(toString(datum.a))", "as": "n"}, {"calculate": "((639 - 9 * pow(abs(sin(datum.t)), 8)) * sin(datum.t) + (abs(sin(datum.t)) > 0.01 ? (sin(datum.t) > 0 ? 1 : -1) : 0) * 13.5 * datum.n) / 604", "as": "x"}, {"calculate": "(639 * cos(datum.t) + (abs(cos(datum.t)) > 0.01 ? (cos(datum.t) > 0 ? 1 : -1) : 0) * (19 + 8 * pow(abs(sin(datum.t)), 4))) / 604", "as": "y"}],
         "mark": {"type": "text", "fontSize": 54},
         "encoding": {"x": {"field": "x", "type": "quantitative", "scale": {"domain": [-1, 1]}}, "y": {"field": "y", "type": "quantitative", "scale": {"domain": [-1, 1]}, "title": null}, "text": {"field": "a", "type": "nominal"}}},
        {"data": {"name": "curves"}, "transform": [{"filter": "datum.p == 'c'"}, {"calculate": "(datum.v + 30) / 30", "as": "r"}, {"calculate": "datum.r * sin(datum.a * PI / 180)", "as": "x"}, {"calculate": "datum.r * cos(datum.a * PI / 180)", "as": "y"}],
         "mark": {"type": "line", "interpolate": "cardinal-closed", "strokeWidth": 14, "strokeCap": "round", "strokeJoin": "round"},
         "encoding": {
           "x": {"field": "x", "type": "quantitative", "scale": {"domain": [-1, 1]}},
           "y": {"field": "y", "type": "quantitative", "scale": {"domain": [-1, 1]}, "title": null, "axis": {"values": [1, 0.83333, 0.66667, 0.5, 0.33333, 0.16667, 0, -0.16667, -0.33333, -0.5, -0.66667, -0.83333, -1], "labelExpr": "'' + round(30 * abs(datum.value) - 30)"}},
           "order": {"field": "a", "type": "quantitative"},
           "color": {"field": "s", "type": "nominal", "scale": {"domain": ["Co", "X"], "range": ["black", "#ff0000"]}, "legend": {"title": null, "orient": "none", "legendX": 369, "legendY": 663, "labelExpr": "'28GHz ' + datum.label + '-Pol\u00a0\u00a0'", "encode": {"symbols": {"update": {"strokeCap": {"value": "round"}}}}}},
           "strokeDash": {"field": "s", "type": "nominal", "scale": {"domain": ["Co", "X"], "range": [[52, 49, 0.5, 49], [1, 0]]}, "legend": {"title": null, "orient": "none", "legendX": 369, "legendY": 663, "labelExpr": "'28GHz ' + datum.label + '-Pol\u00a0\u00a0'"}}
         }},
        {"data": {"values": [{}]}, "mark": {"type": "rect", "fill": "white", "stroke": "#333333", "strokeWidth": 2.5},
         "encoding": {"x": {"datum": -1.175, "type": "quantitative", "scale": {"domain": [-1, 1]}}, "x2": {"datum": -0.876}, "y": {"datum": 1.152, "type": "quantitative", "scale": {"domain": [-1, 1]}, "title": null}, "y2": {"datum": 1.007}}},
        {"data": {"values": [{}]}, "mark": {"type": "text", "text": "Ant 3", "fontSize": 58},
         "encoding": {"x": {"datum": -1.0255, "type": "quantitative", "scale": {"domain": [-1, 1]}}, "y": {"datum": 1.068, "type": "quantitative", "scale": {"domain": [-1, 1]}, "title": null}}},
        {"data": {"values": [{}]}, "mark": {"type": "text", "text": "(", "fontSize": 72, "dx": -30},
         "encoding": {"x": {"datum": -0.144, "type": "quantitative", "scale": {"domain": [-1, 1]}}, "y": {"datum": -1.305, "type": "quantitative", "scale": {"domain": [-1, 1]}, "title": null}}},
        {"data": {"values": [{}]}, "mark": {"type": "text", "text": "c", "fontSize": 72, "fontWeight": "bold"},
         "encoding": {"x": {"datum": -0.144, "type": "quantitative", "scale": {"domain": [-1, 1]}}, "y": {"datum": -1.305, "type": "quantitative", "scale": {"domain": [-1, 1]}, "title": null}}},
        {"data": {"values": [{}]}, "mark": {"type": "text", "text": ")", "fontSize": 72, "dx": 30},
         "encoding": {"x": {"datum": -0.144, "type": "quantitative", "scale": {"domain": [-1, 1]}}, "y": {"datum": -1.305, "type": "quantitative", "scale": {"domain": [-1, 1]}, "title": null}}}
      ]
    },
    {
      "width": 1208, "height": 1208,
      "layer": [
        {"data": {"name": "rings"}, "transform": [{"filter": "datum.p == 'd'"}, {"calculate": "(datum.v + 30) / 40", "as": "r"}],
         "mark": {"type": "point", "shape": "circle", "filled": false, "opacity": 1, "stroke": "#8a8a8a", "strokeWidth": 2, "strokeDash": [8, 7]},
         "encoding": {"x": {"datum": 0, "type": "quantitative", "scale": {"domain": [-1, 1]}}, "y": {"datum": 0, "type": "quantitative", "scale": {"domain": [-1, 1]}, "title": null},
           "size": {"field": "r", "type": "quantitative", "scale": {"type": "pow", "exponent": 2, "domain": [0, 1], "range": [0, 1459264]}, "legend": null}}},
        {"data": {"name": "spokes"}, "transform": [{"calculate": "datum.a * PI / 180", "as": "t"}, {"calculate": "0.086 * sin(datum.t)", "as": "x"}, {"calculate": "0.086 * cos(datum.t)", "as": "y"}, {"calculate": "sin(datum.t)", "as": "x2"}, {"calculate": "cos(datum.t)", "as": "y2"}],
         "mark": {"type": "rule", "stroke": "#8a8a8a", "strokeWidth": 2},
         "encoding": {"x": {"field": "x", "type": "quantitative", "scale": {"domain": [-1, 1]}}, "y": {"field": "y", "type": "quantitative", "scale": {"domain": [-1, 1]}, "title": null}, "x2": {"field": "x2"}, "y2": {"field": "y2"}}},
        {"data": {"name": "spokes"}, "transform": [{"calculate": "datum.a * PI / 180", "as": "t"}, {"calculate": "0.962 * sin(datum.t)", "as": "x"}, {"calculate": "0.962 * cos(datum.t)", "as": "y"}, {"calculate": "sin(datum.t)", "as": "x2"}, {"calculate": "cos(datum.t)", "as": "y2"}],
         "mark": {"type": "rule", "stroke": "black", "strokeWidth": 7},
         "encoding": {"x": {"field": "x", "type": "quantitative", "scale": {"domain": [-1, 1]}}, "y": {"field": "y", "type": "quantitative", "scale": {"domain": [-1, 1]}, "title": null}, "x2": {"field": "x2"}, "y2": {"field": "y2"}}},
        {"data": {"values": [{}]},
         "mark": {"type": "point", "shape": "circle", "filled": false, "opacity": 1, "stroke": "black", "strokeWidth": 8, "size": 1459264},
         "encoding": {"x": {"datum": 0, "type": "quantitative", "scale": {"domain": [-1, 1]}}, "y": {"datum": 0, "type": "quantitative", "scale": {"domain": [-1, 1]}, "title": null}}},
        {"data": {"name": "spokes"}, "transform": [{"calculate": "datum.a * PI / 180", "as": "t"}, {"calculate": "length(toString(datum.a))", "as": "n"}, {"calculate": "((639 - 9 * pow(abs(sin(datum.t)), 8)) * sin(datum.t) + (abs(sin(datum.t)) > 0.01 ? (sin(datum.t) > 0 ? 1 : -1) : 0) * 13.5 * datum.n) / 604", "as": "x"}, {"calculate": "(639 * cos(datum.t) + (abs(cos(datum.t)) > 0.01 ? (cos(datum.t) > 0 ? 1 : -1) : 0) * (19 + 8 * pow(abs(sin(datum.t)), 4))) / 604", "as": "y"}],
         "mark": {"type": "text", "fontSize": 54},
         "encoding": {"x": {"field": "x", "type": "quantitative", "scale": {"domain": [-1, 1]}}, "y": {"field": "y", "type": "quantitative", "scale": {"domain": [-1, 1]}, "title": null}, "text": {"field": "a", "type": "nominal"}}},
        {"data": {"name": "curves"}, "transform": [{"filter": "datum.p == 'd'"}, {"calculate": "(datum.v + 30) / 40", "as": "r"}, {"calculate": "datum.r * sin(datum.a * PI / 180)", "as": "x"}, {"calculate": "datum.r * cos(datum.a * PI / 180)", "as": "y"}],
         "mark": {"type": "line", "interpolate": "cardinal-closed", "strokeWidth": 14, "strokeCap": "round", "strokeJoin": "round"},
         "encoding": {
           "x": {"field": "x", "type": "quantitative", "scale": {"domain": [-1, 1]}},
           "y": {"field": "y", "type": "quantitative", "scale": {"domain": [-1, 1]}, "title": null, "axis": {"values": [1, 0.75, 0.5, 0.25, 0, -0.25, -0.5, -0.75, -1], "labelExpr": "'' + round(40 * abs(datum.value) - 30)"}},
           "order": {"field": "a", "type": "quantitative"},
           "color": {"field": "s", "type": "nominal", "scale": {"domain": ["Co", "X"], "range": ["black", "#ff0000"]}, "legend": {"title": null, "orient": "none", "legendX": 412, "legendY": 657, "labelExpr": "'28GHz ' + datum.label + '-Pol\u00a0\u00a0'", "encode": {"symbols": {"update": {"strokeCap": {"value": "round"}}}}}},
           "strokeDash": {"field": "s", "type": "nominal", "scale": {"domain": ["Co", "X"], "range": [[52, 49, 0.5, 49], [1, 0]]}, "legend": {"title": null, "orient": "none", "legendX": 412, "legendY": 657, "labelExpr": "'28GHz ' + datum.label + '-Pol\u00a0\u00a0'"}}
         }},
        {"data": {"values": [{}]}, "mark": {"type": "rect", "fill": "white", "stroke": "#333333", "strokeWidth": 2.5},
         "encoding": {"x": {"datum": -1.175, "type": "quantitative", "scale": {"domain": [-1, 1]}}, "x2": {"datum": -0.876}, "y": {"datum": 1.152, "type": "quantitative", "scale": {"domain": [-1, 1]}, "title": null}, "y2": {"datum": 1.007}}},
        {"data": {"values": [{}]}, "mark": {"type": "text", "text": "Ant 4", "fontSize": 58},
         "encoding": {"x": {"datum": -1.0255, "type": "quantitative", "scale": {"domain": [-1, 1]}}, "y": {"datum": 1.068, "type": "quantitative", "scale": {"domain": [-1, 1]}, "title": null}}},
        {"data": {"values": [{}]}, "mark": {"type": "text", "text": "(", "fontSize": 72, "dx": -33},
         "encoding": {"x": {"datum": -0.144, "type": "quantitative", "scale": {"domain": [-1, 1]}}, "y": {"datum": -1.305, "type": "quantitative", "scale": {"domain": [-1, 1]}, "title": null}}},
        {"data": {"values": [{}]}, "mark": {"type": "text", "text": "d", "fontSize": 72, "fontWeight": "bold"},
         "encoding": {"x": {"datum": -0.144, "type": "quantitative", "scale": {"domain": [-1, 1]}}, "y": {"datum": -1.305, "type": "quantitative", "scale": {"domain": [-1, 1]}, "title": null}}},
        {"data": {"values": [{}]}, "mark": {"type": "text", "text": ")", "fontSize": 72, "dx": 33},
         "encoding": {"x": {"datum": -0.144, "type": "quantitative", "scale": {"domain": [-1, 1]}}, "y": {"datum": -1.305, "type": "quantitative", "scale": {"domain": [-1, 1]}, "title": null}}}
      ]
    }
  ]
}
